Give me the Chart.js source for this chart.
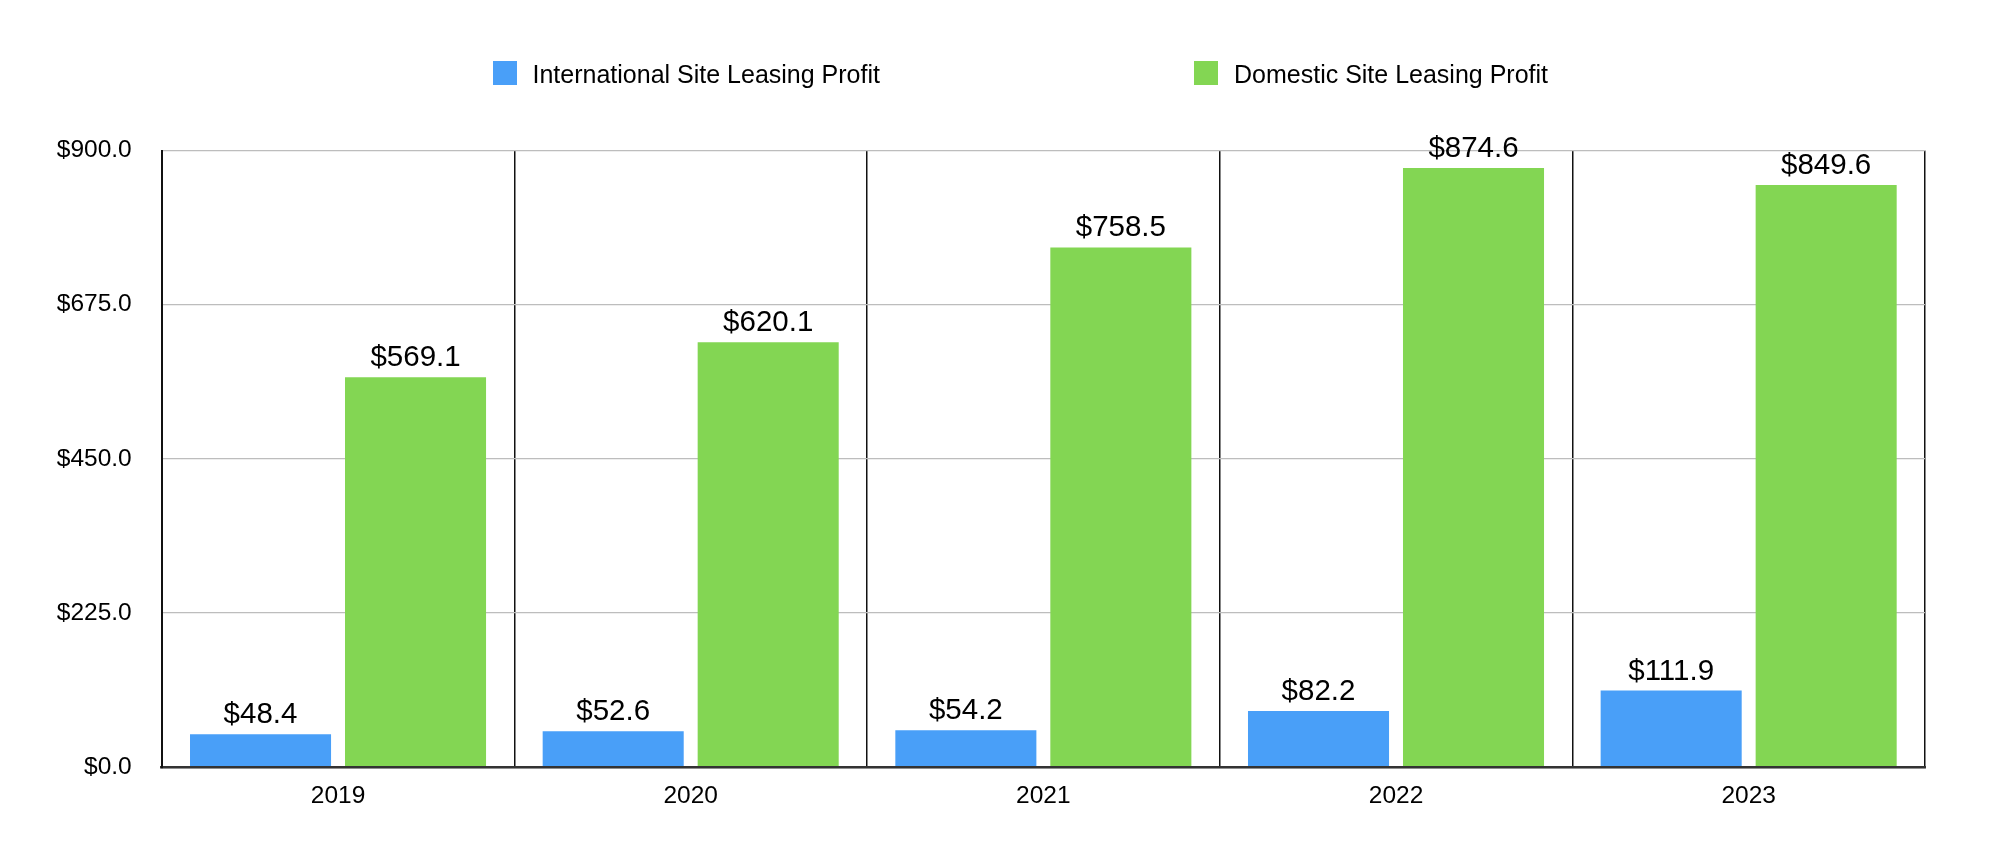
<!DOCTYPE html>
<html>
<head>
<meta charset="utf-8">
<script src="https://cdn.jsdelivr.net/npm/chart.js@4.4.1/dist/chart.umd.min.js"></script>
<style>
  html, body { margin: 0; padding: 0; background: #ffffff; }
  #wrap { width: 2010px; height: 864px; }
</style>
</head>
<body>
<div id="wrap"><canvas id="c" width="2010" height="864"></canvas></div>
<script>
const categories = ['2019', '2020', '2021', '2022', '2023'];
const internationalProfit = [48.4, 52.6, 54.2, 82.2, 111.9];
const domesticProfit = [569.1, 620.1, 758.5, 874.6, 849.6];
const seriesNames = ['International Site Leasing Profit', 'Domestic Site Leasing Profit'];
const yTicks = [0, 225, 450, 675, 900];

const FONT = "'Liberation Sans', Arial, Helvetica, sans-serif";

const dataLabelPlugin = {
  id: 'dataLabels',
  afterDatasetsDraw(chart) {
    const ctx = chart.ctx;
    ctx.save();
    ctx.font = "29.5px " + FONT;
    ctx.fillStyle = '#000000';
    ctx.textAlign = 'center';
    ctx.textBaseline = 'alphabetic';
    chart.data.datasets.forEach((ds, di) => {
      const meta = chart.getDatasetMeta(di);
      meta.data.forEach((bar, i) => {
        ctx.fillText('$' + ds.data[i].toFixed(1), bar.x, bar.y - 11);
      });
    });
    ctx.restore();
  }
};

const legendPlugin = {
  id: 'customLegend',
  afterDraw(chart) {
    const ctx = chart.ctx;
    const items = [{ box: 493, text: 532.5 }, { box: 1194, text: 1234 }];
    ctx.save();
    ctx.font = "25px " + FONT;
    ctx.textAlign = 'left';
    ctx.textBaseline = 'alphabetic';
    chart.data.datasets.forEach((ds, i) => {
      const it = items[i];
      ctx.fillStyle = ds.backgroundColor;
      ctx.fillRect(it.box, 61, 24, 24);
      ctx.fillStyle = '#000000';
      ctx.fillText(ds.label, it.text, 83.3);
    });
    ctx.restore();
  }
};

new Chart(document.getElementById('c'), {
  type: 'bar',
  data: {
    labels: categories,
    datasets: [
      { label: seriesNames[0], data: internationalProfit, backgroundColor: '#499ff8', borderWidth: 0,
        categoryPercentage: 0.879, barPercentage: 0.91 },
      { label: seriesNames[1], data: domesticProfit, backgroundColor: '#83d653', borderWidth: 0,
        categoryPercentage: 0.879, barPercentage: 0.91 }
    ]
  },
  options: {
    responsive: false,
    devicePixelRatio: 1,
    animation: false,
    layout: { padding: { left: 0, right: 85, top: 150.5, bottom: 0 } },
    plugins: {
      legend: { display: false },
      tooltip: { enabled: false },
      title: { display: false }
    },
    scales: {
      x: {
        afterFit(scale) { scale.height = 864 - 767.3; },
        grid: {
          offset: true,
          color: '#111111',
          lineWidth: (c) => (c.index === 0 || c.index === categories.length) ? 2 : 1.5,
          drawTicks: false
        },
        border: { display: true, color: '#333333', width: 2.5, z: 1 },
        ticks: {
          color: '#000000',
          font: { family: FONT, size: 24.5 },
          padding: 14
        }
      },
      y: {
        min: 0,
        max: 900,
        afterFit(scale) { scale.width = 161.7; },
        afterBuildTicks(scale) { scale.ticks = yTicks.map(v => ({ value: v })); },
        grid: { color: '#bdbdbd', lineWidth: 1.2, drawTicks: false },
        border: { display: true, color: '#111111', width: 2, z: 1 },
        ticks: {
          color: '#000000',
          font: { family: FONT, size: 24.5 },
          padding: 30,
          callback: (v) => '$' + Number(v).toFixed(1)
        }
      }
    }
  },
  plugins: [dataLabelPlugin, legendPlugin]
});
</script>
</body>
</html>
